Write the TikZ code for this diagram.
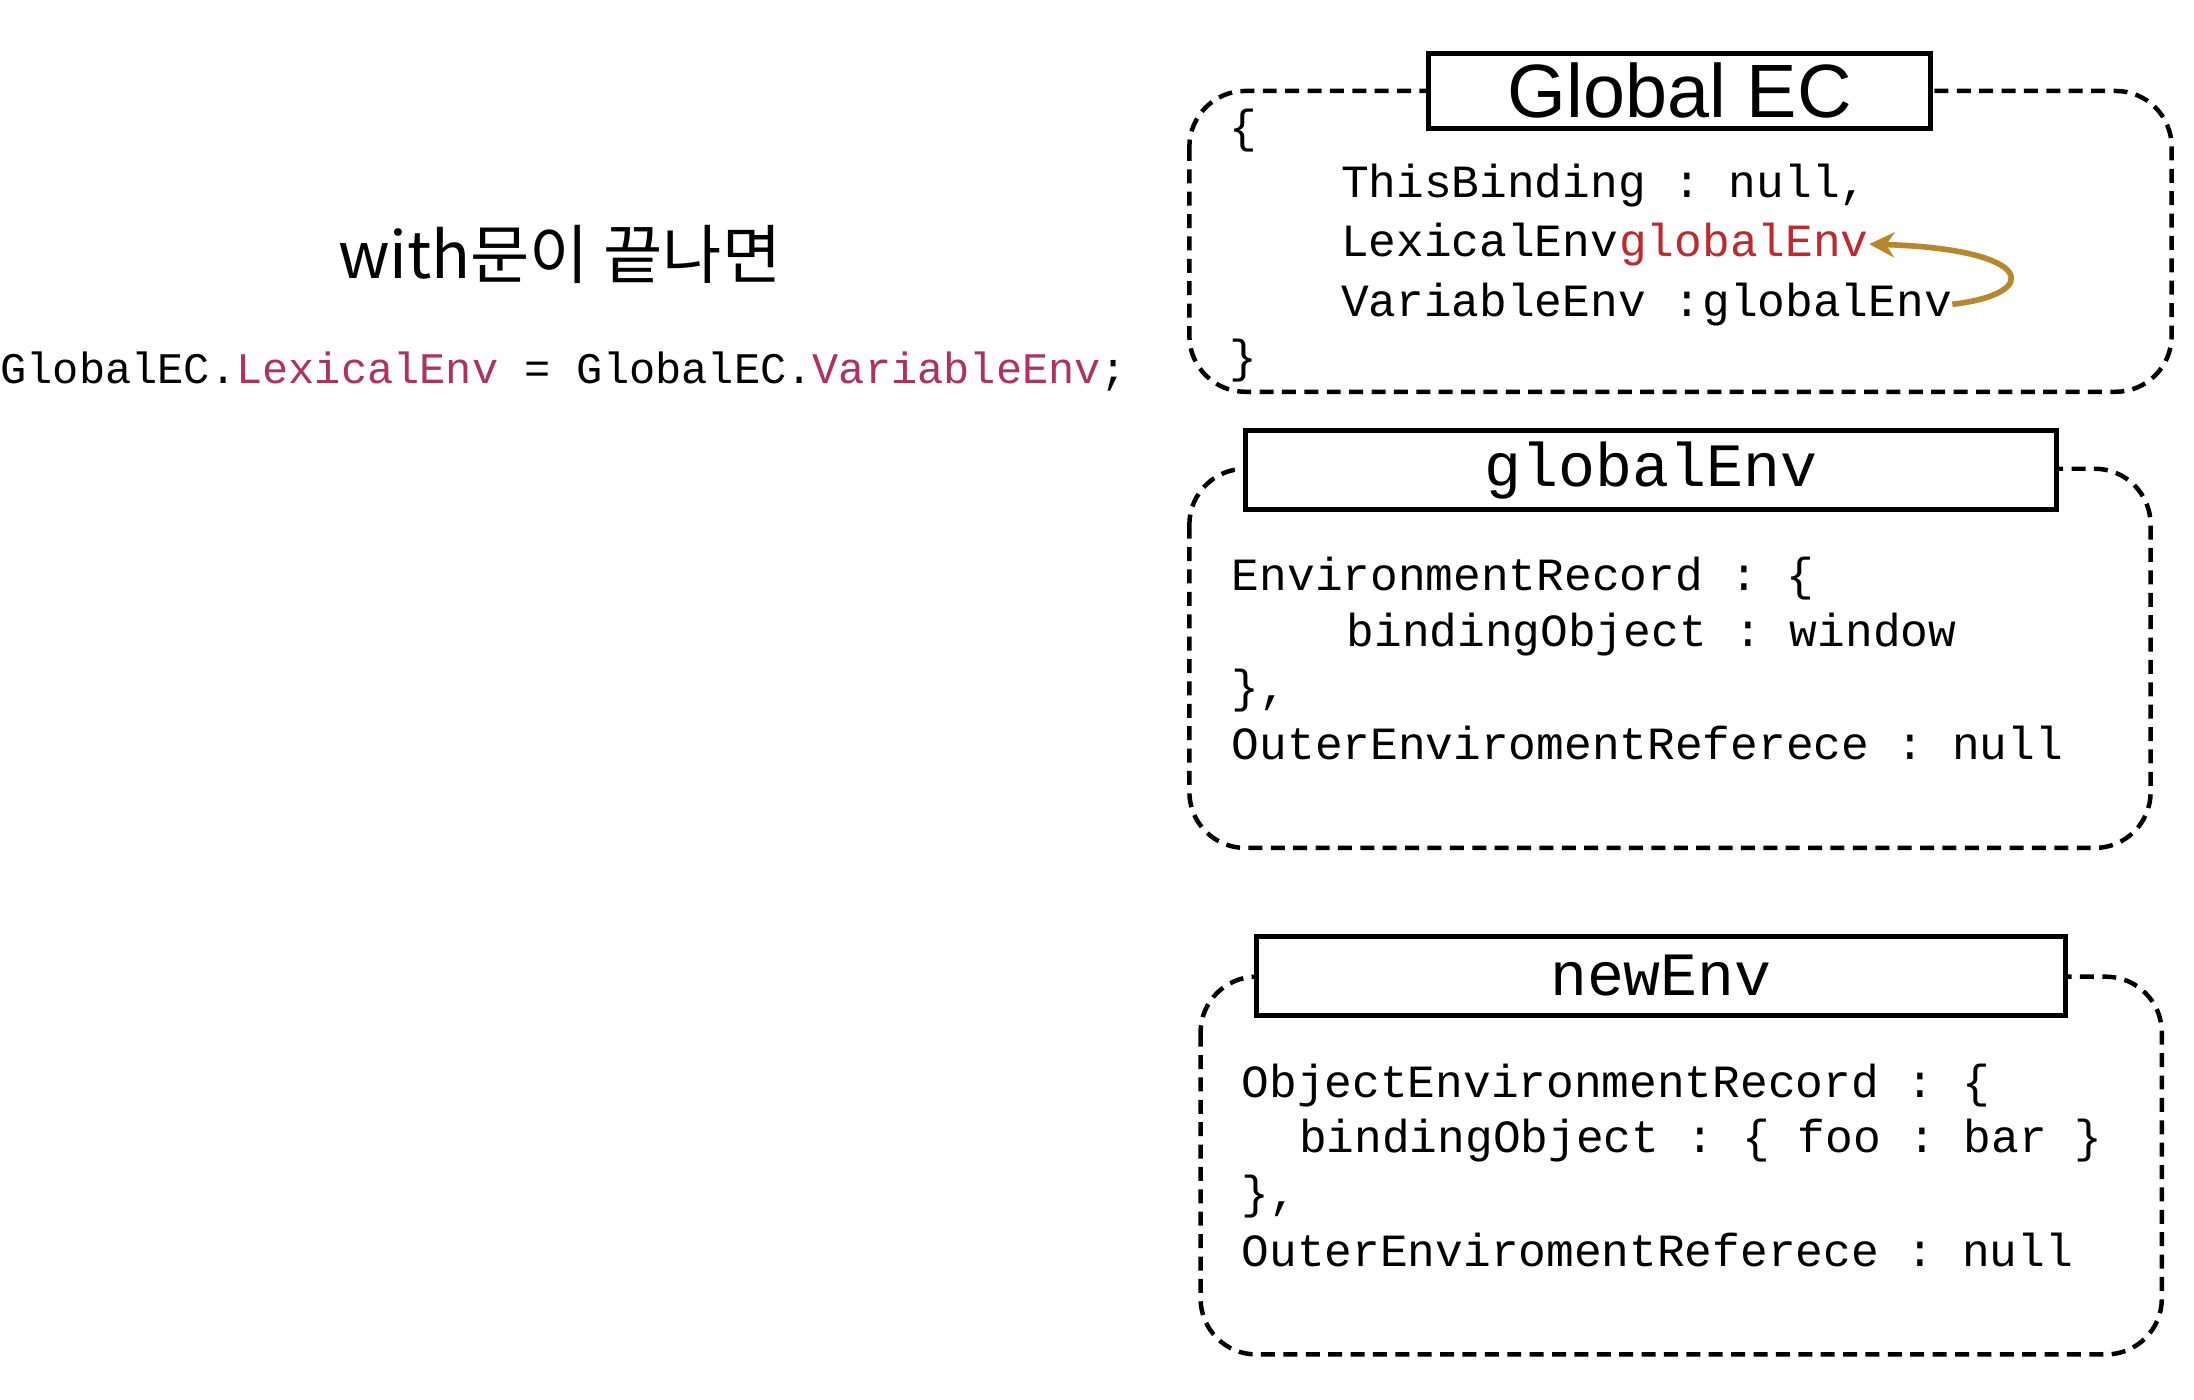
\documentclass[tikz,border=0pt]{standalone}
\usepackage{fontspec}
\usetikzlibrary{arrows.meta}
\setmainfont{Liberation Sans}
\setmonofont{Liberation Mono}
\newfontfamily\cjk{Noto Sans CJK KR}
\begin{document}
\definecolor{kw}{HTML}{B0305E}
\definecolor{red1}{HTML}{C0282D}
\definecolor{gold}{HTML}{B8862B}
\begin{tikzpicture}[x=0.5pt,y=-0.5pt,
  outer/.style={draw,line width=1.6pt,dash pattern=on 5pt off 3pt,rounded corners=20pt},
  title/.style={draw,fill=white,line width=1.8pt},
  code/.style={anchor=base west,inner sep=0pt,font=\ttfamily\fontsize{16.5}{18}\selectfont},
  ttl/.style={inner sep=0pt,font=\ttfamily\fontsize{22}{24}\selectfont}]
\useasboundingbox[fill=white] (0,0) rectangle (1568,1000);
\node[inner sep=0pt,font=\cjk\fontsize{23}{26}\selectfont] (head) at (400,182) {with문이 끝나면};
\node[code,font=\ttfamily\fontsize{15.6}{18}\selectfont] (line) at (0,274) {GlobalEC.\textcolor{kw}{LexicalEnv} = GlobalEC.\textcolor{kw}{VariableEnv};};
% Global EC
\draw[outer] (850,65) rectangle (1552,280);
\node[title,minimum width=179.5pt,minimum height=27pt] (gec) at (1200.5,65) {\fontsize{27}{30}\selectfont Global EC};
\node[code] (ob) at (878,102) {\{};
\node[code] (l1) at (958,141) {ThisBinding : null,};
\node[code] (l2) at (958,183) {LexicalEnv };
\node[code,text=red1,anchor=base west] (lexg) at (l2.base east) {globalEnv};
\node[code] (l3) at (958,226) {VariableEnv : };
\node[code,anchor=base west] (v3) at (l3.base east) {globalEnv};
\node[code] (cb) at (878,266) {\}};
\draw[gold,line width=2pt,-{Stealth[length=9pt,width=9pt]}] (v3.east) .. controls (1460,210) and (1455,178) .. (lexg.east);
% globalEnv
\draw[outer] (850,335) rectangle (1537,606);
\node[title,minimum width=290pt,minimum height=28pt] (ge) at (1180,336) {};
\node[ttl] at (ge) {globalEnv};
\node[code] (g1) at (880,422) {EnvironmentRecord : \{};
\node[code] (g2) at (962,462) {bindingObject : window};
\node[code] (g3) at (880,502) {\},};
\node[code] (g4) at (880,543) {OuterEnviromentReferece : null};
% newEnv
\draw[outer] (858,698) rectangle (1545,968);
\node[title,minimum width=289pt,minimum height=28.5pt] (ne) at (1187,697.5) {};
\node[ttl] at (ne) {newEnv};
\node[code] (n1) at (887,784) {ObjectEnvironmentRecord : \{};
\node[code] (n2) at (928,824) {bindingObject : \{ foo : bar \}};
\node[code] (n3) at (887,864) {\},};
\node[code] (n4) at (887,905) {OuterEnviromentReferece : null};
\end{tikzpicture}
\end{document}
